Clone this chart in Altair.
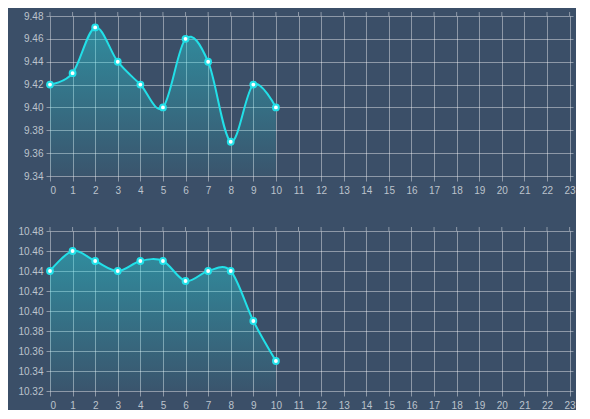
import altair as alt
import pandas as pd

# ---- data ----
hours = list(range(11))
series_top = [9.42, 9.43, 9.47, 9.44, 9.42, 9.40, 9.46, 9.44, 9.37, 9.42, 9.40]
series_bottom = [10.44, 10.46, 10.45, 10.44, 10.45, 10.45, 10.43, 10.44, 10.44, 10.39, 10.35]
x_ticks = list(range(24))
y_ticks_top = [9.34, 9.36, 9.38, 9.40, 9.42, 9.44, 9.46, 9.48]
y_ticks_bottom = [10.32, 10.34, 10.36, 10.38, 10.40, 10.42, 10.44, 10.46, 10.48]
x_domain_max = 23.15

CYAN = "#22e0e8"
GRID = "rgba(255,255,255,0.42)"
LABEL = "#bcc3cc"
FONT = "Liberation Sans"


def panel(values, yticks, width):
    df = pd.DataFrame({"x": hours, "y": values, "base": [yticks[0]] * len(hours)})
    base = alt.Chart(df)
    x_scale = alt.Scale(domain=[0, x_domain_max], nice=False, zero=False)
    x_enc = alt.X(
        "x:Q",
        scale=x_scale,
        axis=alt.Axis(values=x_ticks, title=None, format="d", grid=True,
                      tickSize=5, labelPadding=4, domain=False),
    )
    y_enc = alt.Y(
        "y:Q",
        scale=alt.Scale(domain=[yticks[0], yticks[-1]], nice=False, zero=False),
        axis=alt.Axis(values=yticks, title=None, format=".2f", grid=True,
                      tickSize=4, labelPadding=3, domain=False, minExtent=0),
    )
    area = base.mark_area(
        interpolate="cardinal",
        color=alt.Gradient(
            gradient="linear",
            stops=[
                alt.GradientStop(color="rgba(34,224,232,0.42)", offset=0),
                alt.GradientStop(color="rgba(34,224,232,0.04)", offset=1),
            ],
            x1=1, x2=1, y1=0, y2=1,
        ),
    ).encode(x=x_enc, y=y_enc, y2="base:Q")
    line = base.mark_line(interpolate="cardinal", color=CYAN, strokeWidth=2).encode(
        x=x_enc, y=y_enc
    )
    pts = base.mark_point(
        filled=True, fill="white", stroke=CYAN, strokeWidth=2, size=34, opacity=1
    ).encode(x=x_enc, y=y_enc)
    # short extensions of the vertical grid lines above the plot
    ext = alt.Chart(pd.DataFrame({"x": x_ticks})).mark_rule(
        color=GRID, strokeWidth=1
    ).encode(x=x_enc, y=alt.value(-4), y2=alt.value(0))
    return alt.layer(area, line, pts, ext).properties(width=width, height=160)


top = panel(series_top, y_ticks_top, 523)
bottom = panel(series_bottom, y_ticks_bottom, 523)

chart = (
    alt.concat(top, bottom, columns=1, spacing=31, align="none")
    .properties(
        background="#3b4f68",
        padding={"left": 9, "top": 3, "right": 0, "bottom": 0},
    )
    .configure_view(strokeWidth=0)
    .configure_axis(
        gridColor=GRID,
        gridWidth=1,
        tickColor=GRID,
        labelColor=LABEL,
        labelFont=FONT,
        labelFontSize=10,
    )
)

chart.save("out.html", embed_options={"renderer": "svg", "actions": False})
